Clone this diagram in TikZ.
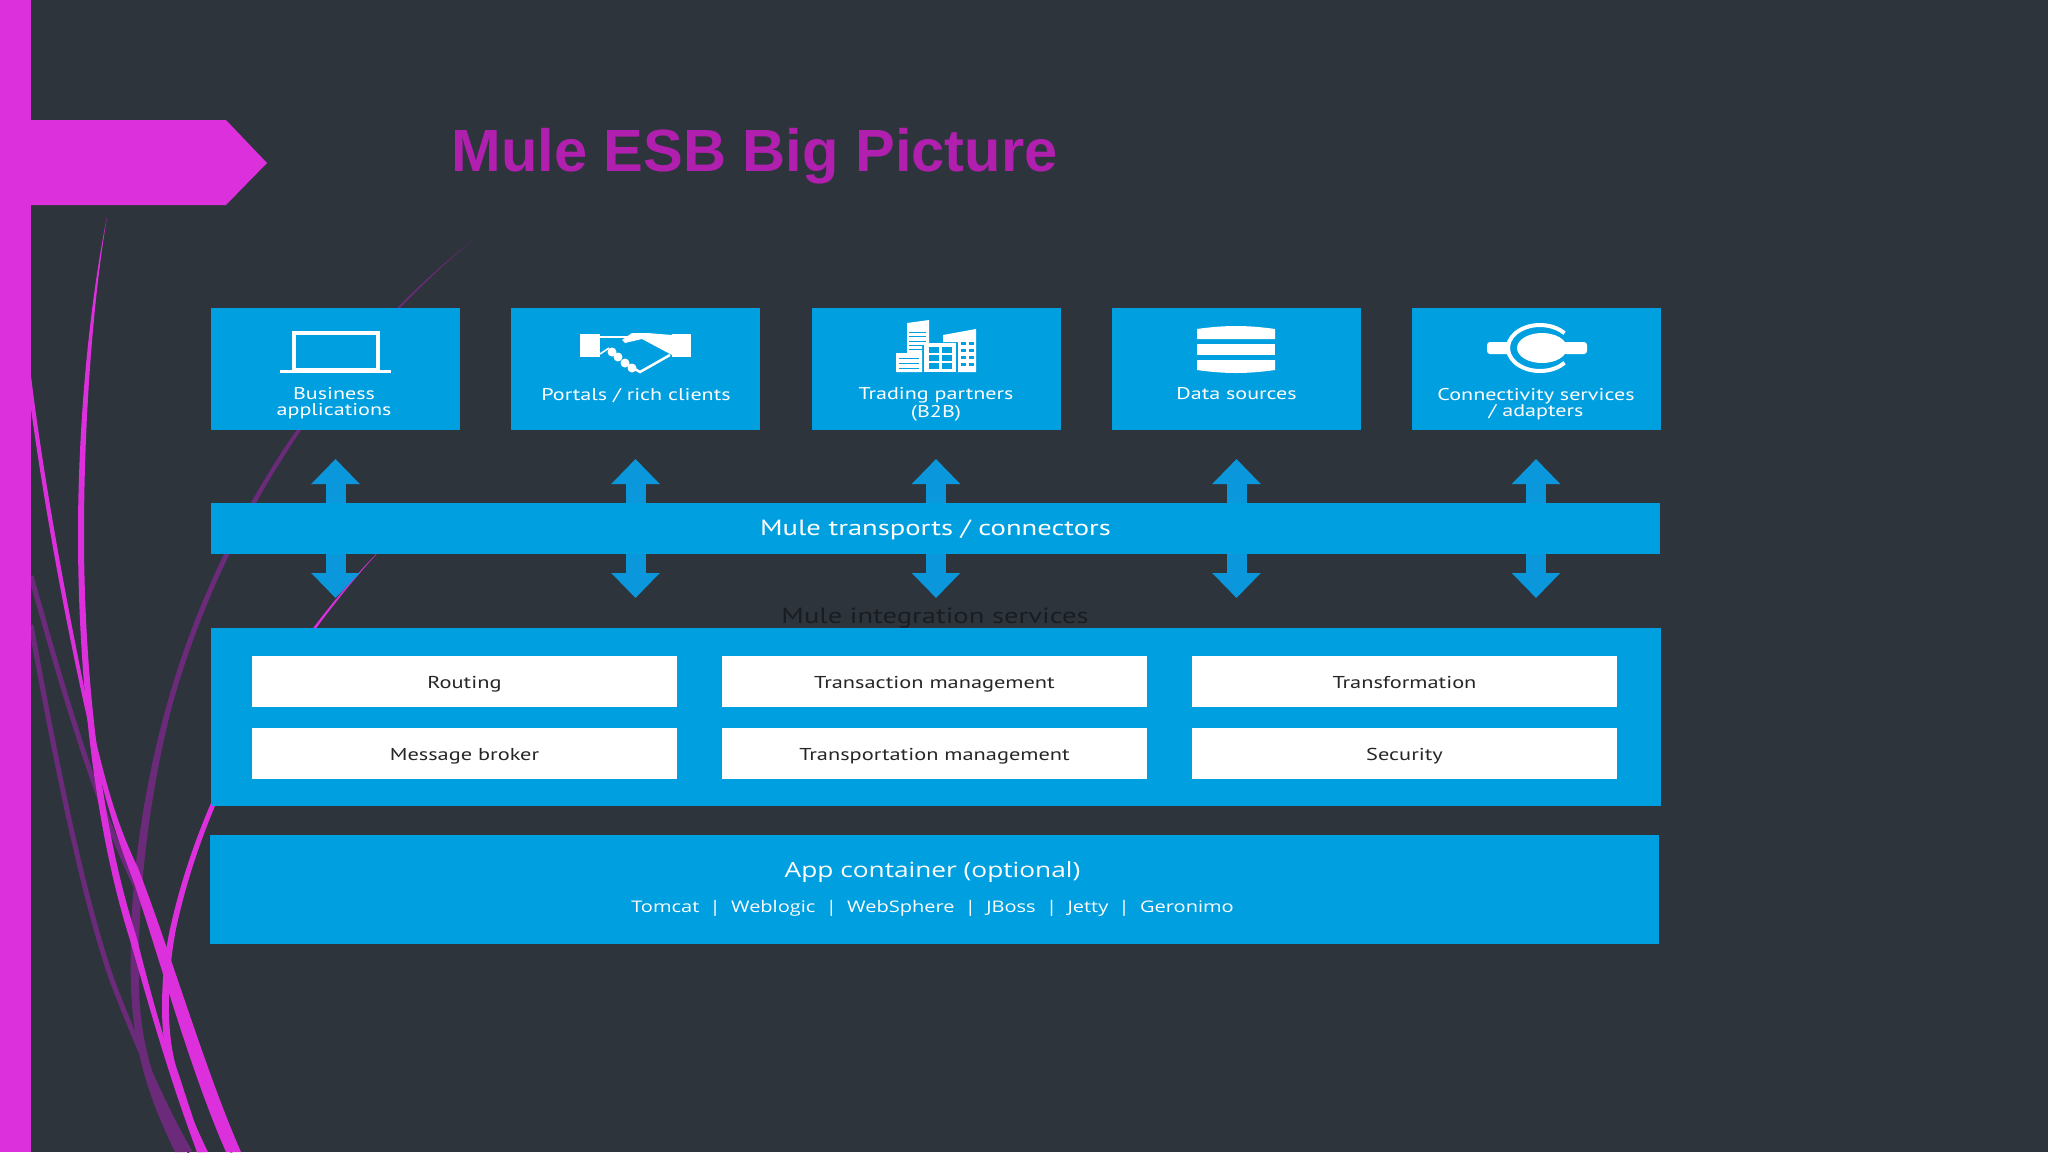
\documentclass[tikz,border=0pt]{standalone}
\usepackage{fontspec}
\setmainfont{Liberation Sans}
\newfontfamily\dinfont[FakeStretch=1.3]{PT Sans}
\newfontfamily\appfont[FakeStretch=1.25]{Open Sans}
\usetikzlibrary{arrows.meta}
\definecolor{slate}{HTML}{2D343C}
\definecolor{pinkc}{HTML}{DC30DC}
\definecolor{dimc}{HTML}{6C2A7A}
\definecolor{titlec}{HTML}{B01FAE}
\definecolor{boxc}{HTML}{009FE0}
\definecolor{arrowc}{HTML}{0B97DB}
\tikzset{
  topbox/.style={fill=boxc, minimum width=124.5pt, minimum height=61pt, inner sep=0pt, outer sep=0pt},
  cellbox/.style={fill=white, minimum width=212.5pt, minimum height=25.5pt, inner sep=0pt, outer sep=0pt},
  toptext/.style={text=white, font=\dinfont\fontsize{8.5}{8}\selectfont, align=center, anchor=north, inner sep=0pt},
  celltext/.style={text=black!85, font=\dinfont\fontsize{8.6}{8.6}\selectfont, text height=7.5pt, text depth=1pt},
  updown/.style={arrowc, line width=10pt, {Triangle[width=23.5pt,length=12.5pt]}-{Triangle[width=23.5pt,length=12.5pt]}, shorten <=14.5pt, shorten >=15pt},
}
\begin{document}
\begin{tikzpicture}[x=0.5pt,y=-0.5pt]
\useasboundingbox (0,0) rectangle (2048,1152);
\fill[slate] (0,0) rectangle (2048,1152);

% swooshes
\draw[dimc, line width=2.5pt] (31,576) .. controls (60,680) and (95,800) .. (133,880) .. controls (165,950) and (205,1070) .. (233,1152);
\draw[dimc, line width=2.5pt] (31,625) .. controls (50,730) and (80,890) .. (113,983) .. controls (135,1040) and (165,1110) .. (190,1152);
\fill[dimc] (472,241) .. controls (370,320) and (230,480) .. (167,704) .. controls (140,800) and (128,900) .. (131,985) .. controls (133,1060) and (155,1110) .. (175,1152) -- (188,1152) .. controls (165,1110) and (140,1060) .. (139,985) .. controls (137,900) and (148,800) .. (172,706) .. controls (235,480) and (375,320) .. (472,241) -- cycle;
\fill[pinkc] (107,217) .. controls (90,300) and (78,420) .. (78,534) .. controls (78,680) and (95,830) .. (130,940) .. controls (150,1010) and (170,1080) .. (197,1152) -- (208,1152) .. controls (175,1085) and (155,1010) .. (136,935) .. controls (102,830) and (84,680) .. (84,534) .. controls (84,420) and (93,300) .. (107,217) -- cycle;
\fill[pinkc] (31,376) .. controls (45,490) and (70,620) .. (90,716) .. controls (105,780) and (115,820) .. (138,868) .. controls (170,950) and (205,1070) .. (241,1152) -- (226,1152) .. controls (190,1070) and (160,960) .. (133,880) .. controls (110,820) and (100,780) .. (88,722) .. controls (65,620) and (45,510) .. (31,409) -- cycle;
\fill[pinkc] (385,545) .. controls (300,630) and (205,770) .. (170,929) .. controls (160,975) and (158,1040) .. (172,1075) .. controls (180,1100) and (190,1130) .. (197,1152) -- (204,1152) .. controls (197,1130) and (187,1100) .. (179,1075) .. controls (165,1040) and (167,975) .. (176,929) .. controls (210,770) and (305,630) .. (385,545) -- cycle;

% left bar and flag
\fill[pinkc] (0,0) rectangle (31,1152);
\fill[pinkc] (31,120) -- (226,120) -- (267,163) -- (226,205) -- (31,205) -- cycle;
\node[anchor=base west, inner sep=0pt, text=titlec, font=\bfseries\fontsize{29.8}{30}\selectfont] (title) at (451,171) {Mule ESB Big Picture};

% top row
\foreach \x/\name in {335.5/biz,635.5/portal,936/partner,1236.5/datasrc,1536/adapter}
\node[topbox] (\name) at (\x,369) {};
\node[toptext] (biztext) at (334,387.5) {Business\\applications};
\node[toptext] (portaltext) at (636,387.5) {Portals / rich clients};
\node[toptext] (partnertext) at (936,387.5) {Trading partners\\[1pt](B2B)};
\node[toptext] (datatext) at (1236.5,387.5) {Data sources};
\node[toptext] (adaptertext) at (1536,387.5) {Connectivity services\\/ adapters};

% laptop
\draw[white, line width=2pt] (293.5,332.5) rectangle (377.5,370);
\fill[white] (280,370) rectangle (391,373);
% handshake
\fill[white] (580,334) rectangle (600,357);
\fill[white] (672,334) rectangle (691,357);
\fill[white] (672,335) -- (647,333) -- (632,333) -- (622,340) -- (625,343) -- (642,339) -- (672,355) -- cycle;
\draw[white, line width=0.75pt] (600,337) -- (630,337);
\draw[white, line width=0.75pt] (600,354) -- (609,348);
\draw[white, line width=1.25pt] (670,355) -- (640,372) -- (628,365);
\foreach \x/\y in {612/352,618/357,625/363,632/368}
\fill[white] (\x,\y) circle (4.5);
% buildings
\fill[white] (907,323) -- (929,320) -- (929,345) -- (922,345) -- (922,372) -- (896,372) -- (896,353) -- (907,353) -- cycle;
\foreach \y in {332,336,341,345,349}
\draw[boxc, line width=0.5pt] (909,\y) -- (926,\y);
\foreach \y in {358,363,368}
\draw[boxc, line width=0.5pt] (899,\y) -- (919,\y);
\fill[white] (924,343) rectangle (956,372);
\foreach \x in {928.5,941.5}
\foreach \y in {347,355,363}
\fill[boxc] (\x,\y) rectangle +(10,6);
\fill[white] (943,335) -- (976,329) -- (976,372) -- (958,372) -- (958,342) -- (943,342) -- cycle;
\foreach \x in {961,969}
\foreach \y in {342,349,356,363}
\fill[boxc] (\x,\y) rectangle +(4.5,3);
% data stack
\fill[white] (1197,329) .. controls (1225,325) and (1247,325) .. (1275,329) -- (1275,339) -- (1197,339) -- cycle;
\fill[white] (1197,344) rectangle (1275,355);
\fill[white] (1197,360) -- (1275,360) -- (1275,370) .. controls (1247,374) and (1225,374) .. (1197,370) -- cycle;
% plug
\fill[white, rounded corners=1.5pt] (1487,342) rectangle (1510,354);
\fill[white, rounded corners=1.5pt] (1563,342) rectangle (1587,354);
\fill[white] (1542,348) ellipse [x radius=25, y radius=15];
\draw[white, line width=2pt] (1540,348) ++(40:32 and 23) arc [start angle=40, end angle=320, x radius=32, y radius=23];

% services panel
\node[text=black!45!slate, font=\dinfont\fontsize{11}{11}\selectfont, inner sep=0pt] (svctitle) at (935,618.5) {Mule integration services};
\node[fill=boxc, minimum width=725pt, minimum height=89pt, inner sep=0pt, outer sep=0pt] (services) at (936,717) {};
\foreach \x/\y/\name/\txt in {464.5/681.5/routing/Routing,934.5/681.5/transaction/Transaction management,1404.5/681.5/transform/Transformation,464.5/753.5/broker/Message broker,934.5/753.5/transport/Transportation management,1404.5/753.5/security/Security}
\node[cellbox, celltext] (\name) at (\x,\y) {\txt};

% arrows
\foreach \name in {biz,portal,partner,datasrc,adapter}
\draw[updown] (\name.south) -- (\name.south |- services.north);

% transports bar
\node[fill=boxc, minimum width=724.5pt, minimum height=25.5pt, inner sep=0pt, outer sep=0pt, text=white, font=\dinfont\fontsize{11}{11}\selectfont, text height=7.5pt, text depth=1pt] (transports) at (935.5,528.5) {Mule transports / connectors};

% app container
\node[fill=boxc, minimum width=724.5pt, minimum height=54.5pt, inner sep=0pt, outer sep=0pt] (app) at (934,889.5) {};
\node[text=white, font=\appfont\fontsize{10.5}{10.5}\selectfont, inner sep=0pt] (apptitle) at (932.5,872.5) {App container (optional)};
\node[text=white, font=\appfont\fontsize{8}{8}\selectfont, inner sep=0pt] (applist) at (932.5,908.5) {Tomcat \ | \ Weblogic \ | \ WebSphere \ | \ JBoss \ | \ Jetty \ | \ Geronimo};
\end{tikzpicture}
\end{document}
